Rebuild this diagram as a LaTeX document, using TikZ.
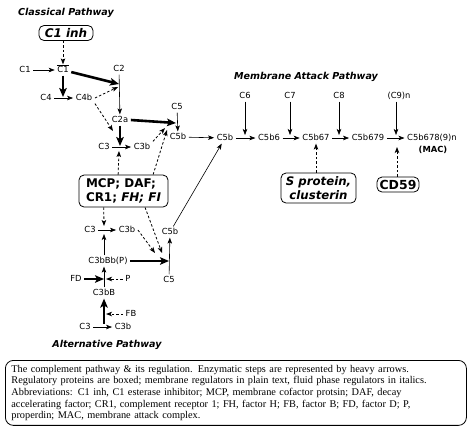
\documentclass[tikz,border=0pt]{standalone}
\usepackage{fontspec}
\setmainfont{Liberation Serif}
\newfontfamily\dvs{DejaVu Sans}
\usetikzlibrary{arrows.meta,calc}
\tikzset{
 lbl/.style={font=\dvs\fontsize{8.4}{9}\selectfont, inner xsep=2.5bp, inner ysep=1.5bp, text height=6.4bp, text depth=1.4bp},
 ttl/.style={font=\dvs\bfseries\itshape\fontsize{9.6}{11}\selectfont, inner sep=0},
 rbox/.style={draw, rounded corners=5bp, line width=0.8bp, inner sep=0},
 thinar/.style={line width=0.6bp, -{Stealth[length=6bp,width=4.5bp,inset=1.5bp]}},
 heavy/.style={line width=2.6bp, -{Stealth[length=9bp,width=7.5bp,inset=2bp]}},
 dsh/.style={line width=0.8bp, dash pattern=on 2.5bp off 2bp, -{Stealth[length=6bp,width=4.5bp,inset=1.5bp]}},
}
\begin{document}
\begin{tikzpicture}[x=1bp,y=-1bp]
\useasboundingbox (0,0) rectangle (474,431);
% titles
\node[ttl] (tclass) at (66,13) {Classical Pathway};
\node[ttl] (tmem) at (306,77) {Membrane Attack Pathway};
\node[ttl] (talt) at (107,345) {Alternative Pathway};
% boxes
\node[rbox, minimum width=54bp, minimum height=15bp, font=\dvs\bfseries\itshape\fontsize{12}{13}\selectfont] (C1inh) at (66,33) {C1 inh};
\node[rbox, minimum width=89bp, minimum height=32bp, inner xsep=4bp, align=left, font=\dvs\bfseries\fontsize{12}{14}\selectfont] (MCP) at (123.5,191) {MCP; DAF;\\CR1; \textit{FH; FI}};
\node[rbox, minimum width=75bp, minimum height=30bp, align=center, font=\dvs\bfseries\itshape\fontsize{11.8}{14}\selectfont] (Sprot) at (318.5,188) {S protein,\\clusterin};
\node[rbox, minimum width=42bp, minimum height=15bp, font=\dvs\bfseries\fontsize{12.5}{13}\selectfont] (CD59) at (398,184.5) {CD59};
% classical labels
\node[lbl] (C1) at (25,70) {C1};
\node[lbl] (C1b) at (63,70) {$\smash{\overline{\hbox{C1}}}$};
\node[lbl] (C4) at (46,98) {C4};
\node[lbl] (C4b) at (84,98) {C4b};
\node[lbl] (C2) at (119,69) {C2};
\node[lbl] (C2a) at (120,120) {C2a};
\node[lbl] (C3) at (104,147) {C3};
\node[lbl] (C3b) at (142,147) {C3b};
\node[lbl] (C5) at (177,107) {C5};
\node[lbl] (C5b) at (178,137) {C5b};
% membrane labels
\node[lbl] (C5bm) at (225,138) {C5b};
\node[lbl] (C5b6) at (269,138) {C5b6};
\node[lbl] (C5b67) at (316,138) {C5b67};
\node[lbl] (C5b679) at (368,138) {C5b679};
\node[lbl] (MAC) at (432,138) {C5b678(9)n};
\node[lbl, font=\dvs\bfseries\fontsize{8.4}{9}\selectfont] (MACt) at (433,150) {(MAC)};
\node[lbl] (C6) at (245,96) {C6};
\node[lbl] (C7) at (290,96) {C7};
\node[lbl] (C8) at (339,96) {C8};
\node[lbl] (C9n) at (399,96) {(C9)n};
% alternative labels
\node[lbl] (C3L) at (90,230) {C3};
\node[lbl] (C3bL) at (127,230) {C3b};
\node[lbl] (C5bL) at (170,232) {C5b};
\node[lbl] (C3bBbP) at (108,261) {C3bBb(P)};
\node[lbl] (C5L) at (169,280) {C5};
\node[lbl] (FD) at (76,279) {FD};
\node[lbl] (P) at (128,279) {P};
\node[lbl] (C3bB) at (104,293) {C3bB};
\node[lbl] (FB) at (131,314) {FB};
\node[lbl] (C3LL) at (85,327) {C3};
\node[lbl] (C3bLL) at (123,327) {C3b};
% reaction points
\coordinate (r1) at (63,97);
\coordinate (r2) at (119,84);
\coordinate (r2b) at (118,87);
\coordinate (r3) at (113,131);
\coordinate (r4) at (120,146);
\coordinate (r4b) at (119,151);
\coordinate (r5) at (176,123);
\coordinate (r5b) at (165,128);
\coordinate (r5c) at (167,130);
\coordinate (r6) at (104,234);
\coordinate (r6b) at (104,226);
\coordinate (r7) at (169,261);
\coordinate (r7b) at (155,253);
\coordinate (r7c) at (162,253);
\coordinate (r8) at (104,279);
\coordinate (r8b) at (106,279);
\coordinate (r9) at (104,324);
\coordinate (r10) at (106,314);
\coordinate (m1) at (245,135);
\coordinate (m2) at (290,135);
\coordinate (m3) at (339,135);
\coordinate (m4) at (396,135);
\coordinate (m5) at (397,147);
% classical connectors
\draw[dsh] (C1inh.south -| C1b.north) -- (C1b.north);
\draw[thinar] (C1) -- (C1b);
\draw[thinar] (C4) -- (C4b);
\draw[heavy] (C1b.south) -- (r1);
\draw[heavy] (C1b) -- (r2);
\draw[thinar] (C2) -- (C2a);
\draw[dsh] (C4b.east) -- (r2b);
\draw[dsh] (C4b.south east) -- (r3);
\draw[heavy] (C2a.south) -- (r4);
\draw[thinar] (C3) -- (C3b);
\draw[heavy] (C2a.east) -- (r5);
\draw[thinar] (C5) -- (C5b);
\draw[dsh] (C3b.north east) -- (r5b);
\draw[dsh] ($(MCP.north west)!0.83!(MCP.north east)$) -- (r5c);
\draw[dsh] ($(MCP.north west)!0.44!(MCP.north east)$) -- (r4b);
\draw[thinar] (C5b) -- (C5bm);
% membrane connectors
\draw[thinar] (C5bm) -- (C5b6);
\draw[thinar] (C5b6) -- (C5b67);
\draw[thinar] (C5b67) -- (C5b679);
\draw[thinar] (C5b679) -- (MAC);
\draw[thinar] (C6) -- (m1);
\draw[thinar] (C7) -- (m2);
\draw[thinar] (C8) -- (m3);
\draw[thinar] (C9n.south -| m4) -- (m4);
\draw[dsh] (Sprot.north -| C5b67) -- (C5b67.south);
\draw[dsh] (CD59.north -| m5) -- (m5);
% alternative connectors
\draw[dsh] ($(MCP.south west)!0.28!(MCP.south east)$) -- (r6b);
\draw[thinar] (C3L) -- (C3bL);
\draw[thinar] (C3bBbP.north -| r6) -- (r6);
\draw[heavy] (C3bBbP.east) -- (r7);
\draw[thinar] (C5L) -- (C5bL);
\draw[dsh] (C3bL.east) -- (r7b);
\draw[dsh] ($(MCP.south west)!0.74!(MCP.south east)$) -- (r7c);
\draw[thinar] (C3bB.north) -- (C3bB.north |- C3bBbP.south);
\draw[heavy] (FD) -- (r8);
\draw[dsh] (P) -- (r8b);
\draw[heavy] (r9) -- (C3bB.south);
\draw[dsh] (FB) -- (r10);
\draw[thinar] (C3LL) -- (C3bLL);
\draw[thinar] (C5bL) -- (C5bm);
% caption
\node[draw, rounded corners=8bp, line width=0.8bp, anchor=north west, text width=449bp, inner xsep=6bp, inner ysep=4.5bp, align=left, font=\fontsize{10.35}{11.7}\selectfont] (cap) at (5,360) {The complement pathway \& its regulation. Enzymatic steps are represented by heavy arrows.\\
Regulatory proteins are boxed; membrane regulators in plain text, fluid phase regulators in italics.\\
Abbreviations: C1 inh, C1 esterase inhibitor; MCP, membrane cofactor protsin; DAF, decay\\
accelerating factor; CR1, complement receptor 1; FH, factor H; FB, factor B; FD, factor D; P,\\
properdin; MAC, membrane attack complex.};
\end{tikzpicture}
\end{document}
